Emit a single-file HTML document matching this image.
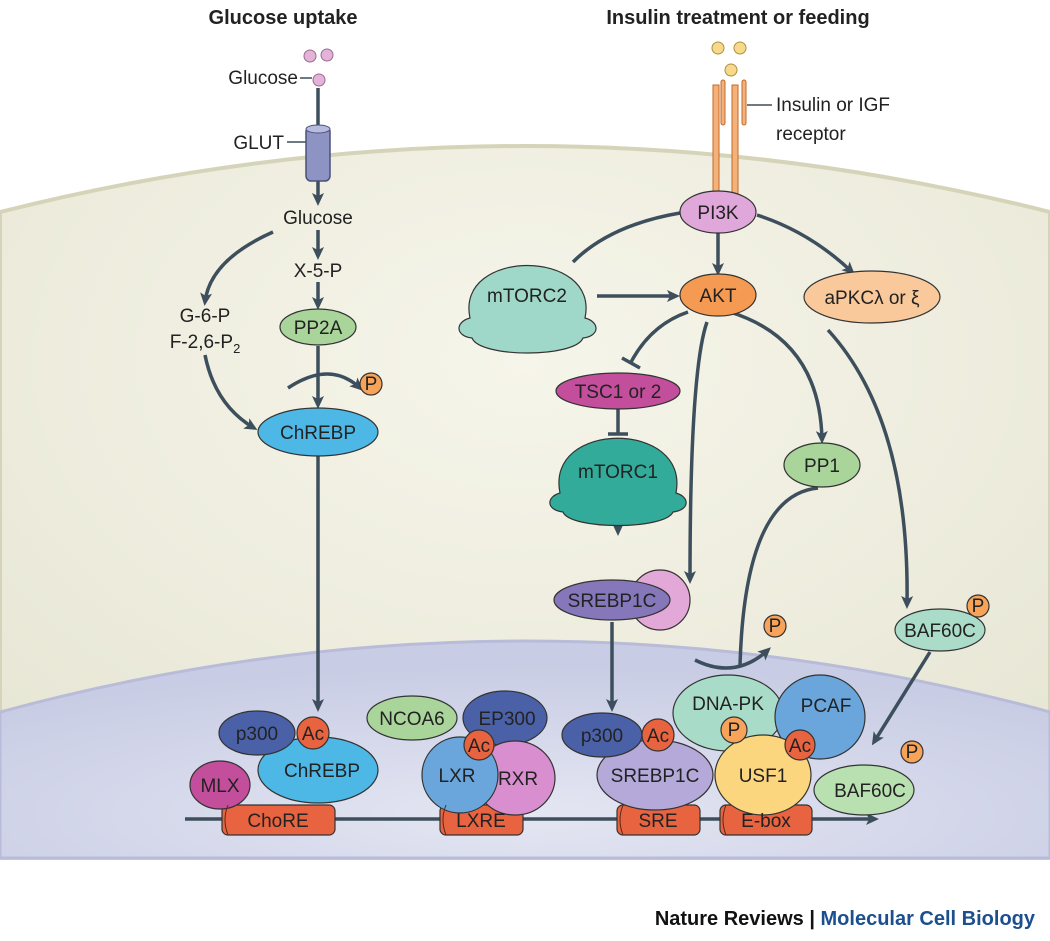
<!DOCTYPE html>
<html><head><meta charset="utf-8"><style>
html,body{margin:0;padding:0;background:#fff}
svg{display:block}
text{font-family:"Liberation Sans",sans-serif;font-size:19px;fill:#222}
</style></head><body>
<svg width="1050" height="941" viewBox="0 0 1050 941" xmlns="http://www.w3.org/2000/svg">
<defs>
<marker id="a" markerWidth="14" markerHeight="14" refX="9" refY="7" orient="auto" markerUnits="userSpaceOnUse"><path d="M0,1 L13,7 L0,13 L3,7 Z" fill="#3d4f5c"/></marker>
<radialGradient id="cyt" cx="50%" cy="30%" r="70%"><stop offset="0" stop-color="#f6f5ea"/><stop offset="1" stop-color="#e8e7d6"/></radialGradient>
<radialGradient id="nuc" cx="50%" cy="80%" r="70%"><stop offset="0" stop-color="#e4e6f2"/><stop offset="1" stop-color="#c8cce4"/></radialGradient>
</defs>
<path d="M0,212 Q525,80 1050,212 L1050,858 L0,858 Z" fill="url(#cyt)" stroke="#d6d4b8" stroke-width="4"/>
<path d="M0,712 Q525,570 1050,712 L1050,858 L0,858 Z" fill="url(#nuc)" stroke="#b8bcd8" stroke-width="3"/>

<g stroke="#3d4f5c" stroke-width="3.5" fill="none">
<line x1="318" y1="88" x2="318" y2="125"/>
<line x1="318" y1="180" x2="318" y2="202" marker-end="url(#a)"/>
<line x1="318" y1="230" x2="318" y2="256" marker-end="url(#a)"/>
<line x1="318" y1="282" x2="318" y2="306" marker-end="url(#a)"/>
<line x1="318" y1="346" x2="318" y2="405" marker-end="url(#a)"/>
<path d="M273,232 Q210,260 205,302" marker-end="url(#a)"/>
<path d="M205,355 Q215,405 254,428" marker-end="url(#a)"/>
<path d="M288,388 Q330,360 360,388" marker-end="url(#a)"/>
<line x1="318" y1="456" x2="318" y2="708" marker-end="url(#a)"/>
<line x1="718" y1="233" x2="718" y2="272" marker-end="url(#a)"/>
<path d="M680,213 Q610,225 573,262"/>
<line x1="597" y1="296" x2="676" y2="296" marker-end="url(#a)"/>
<path d="M757,215 Q810,232 852,272" marker-end="url(#a)"/>
<path d="M688,312 Q650,325 630,364"/>
<line x1="622" y1="358" x2="640" y2="368"/>
<line x1="618" y1="408" x2="618" y2="434"/>
<line x1="608" y1="434" x2="628" y2="434"/>
<line x1="618" y1="506" x2="618" y2="532" marker-end="url(#a)"/>
<path d="M707,322 Q690,370 690,580" marker-end="url(#a)"/>
<path d="M730,312 Q820,340 822,440" marker-end="url(#a)"/>
<path d="M828,330 Q910,420 907,605" marker-end="url(#a)"/>
<line x1="612" y1="622" x2="612" y2="708" marker-end="url(#a)"/>
<path d="M818,488 Q745,495 740,665"/>
<path d="M695,660 Q735,680 768,650" marker-end="url(#a)"/>
<path d="M930,652 Q900,700 874,742" marker-end="url(#a)"/>
<line x1="185" y1="819" x2="875" y2="819" marker-end="url(#a)"/>
</g>
<line x1="287" y1="142" x2="306" y2="142" stroke="#3d4f5c" stroke-width="1.5"/>
<line x1="300" y1="78" x2="312" y2="78" stroke="#3d4f5c" stroke-width="1.5"/>
<line x1="747" y1="105" x2="772" y2="105" stroke="#3d4f5c" stroke-width="1.5"/>

<g fill="#e3b3d8" stroke="#9a6a90" stroke-width="1"><circle cx="310" cy="56" r="6"/><circle cx="327" cy="55" r="6"/><circle cx="319" cy="80" r="6"/></g>
<g fill="#f6d98a" stroke="#b09040" stroke-width="1"><circle cx="718" cy="48" r="6"/><circle cx="740" cy="48" r="6"/><circle cx="731" cy="70" r="6"/></g>
<rect x="306" y="127" width="24" height="54" rx="5" fill="#8d94c4" stroke="#4a527a" stroke-width="1.5"/>
<ellipse cx="318" cy="129" rx="12" ry="4" fill="#b7bbe0" stroke="#4a527a"/>
<g fill="#f4b27a" stroke="#c06a2a" stroke-width="1"><rect x="713" y="85" width="6" height="115"/><rect x="732" y="85" width="6" height="115"/><rect x="721" y="80" width="4" height="45" rx="2"/><rect x="742" y="80" width="4" height="45" rx="2"/></g>

<g stroke="#333" stroke-width="1.2">
<ellipse cx="318" cy="327" rx="38" ry="18" fill="#a9d49a"/>
<ellipse cx="318" cy="432" rx="60" ry="24" fill="#4db7e6"/>
<circle cx="371" cy="384" r="11" fill="#f7a35a"/>
<ellipse cx="718" cy="212" rx="38" ry="21" fill="#e0a8da"/>
<ellipse cx="718" cy="295" rx="38" ry="21" fill="#f49a52"/>
<ellipse cx="872" cy="297" rx="68" ry="26" fill="#f9c99b"/>
<path d="M470,318 C455,248 600,248 585,318 C600,322 600,336 583,338 C575,358 480,358 472,338 C455,336 455,322 470,318 Z" fill="#9fd8c8"/>
<ellipse cx="618" cy="391" rx="62" ry="18" fill="#c24e9c"/>
<path d="M560,493 C545,420 690,420 676,493 C690,497 690,510 673,512 C665,530 570,530 563,512 C546,510 546,497 560,493 Z" fill="#33ab9a"/>
<ellipse cx="822" cy="465" rx="38" ry="22" fill="#a9d49a"/>
<circle cx="660" cy="600" r="30" fill="#e2a8d8"/>
<ellipse cx="612" cy="600" rx="58" ry="20" fill="#8677ba"/>
<ellipse cx="940" cy="630" rx="45" ry="21" fill="#abdcca"/>
<circle cx="978" cy="606" r="11" fill="#f7a35a"/>
<circle cx="775" cy="626" r="11" fill="#f7a35a"/>
<g fill="#e8633f">
<rect x="222" y="805" width="113" height="30" rx="6"/><rect x="440" y="805" width="83" height="30" rx="6"/>
<rect x="617" y="805" width="83" height="30" rx="6"/><rect x="720" y="805" width="92" height="30" rx="6"/>
</g>
<ellipse cx="318" cy="770" rx="60" ry="33" fill="#4db7e6"/>
<ellipse cx="257" cy="733" rx="38" ry="22" fill="#4a61a8"/>
<circle cx="313" cy="733" r="16" fill="#e8633f"/>
<ellipse cx="220" cy="785" rx="30" ry="24" fill="#c24e9c"/>
<ellipse cx="412" cy="718" rx="45" ry="22" fill="#a9d49a"/>
<ellipse cx="505" cy="718" rx="42" ry="27" fill="#4a61a8"/>
<ellipse cx="515" cy="778" rx="40" ry="37" fill="#d98fcf"/>
<ellipse cx="460" cy="775" rx="38" ry="38" fill="#6aa6dc"/>
<circle cx="479" cy="745" r="15" fill="#e8633f"/>
<ellipse cx="728" cy="713" rx="55" ry="38" fill="#a8dcc8"/>
<ellipse cx="820" cy="717" rx="45" ry="42" fill="#6aa6dc"/>
<ellipse cx="655" cy="775" rx="58" ry="35" fill="#b4a9d8"/>
<ellipse cx="602" cy="735" rx="40" ry="22" fill="#4a61a8"/>
<circle cx="658" cy="735" r="16" fill="#e8633f"/>
<ellipse cx="864" cy="790" rx="50" ry="25" fill="#b9e0b0"/>
<ellipse cx="763" cy="775" rx="48" ry="40" fill="#fcd67e"/>
<circle cx="734" cy="730" r="13" fill="#f7a35a"/>
<circle cx="800" cy="745" r="15" fill="#e8633f"/>
<circle cx="912" cy="752" r="11" fill="#f7a35a"/>
</g>
<g stroke="#5a2a18" stroke-width="1" fill="none">
<path d="M228,805 q-6,15 0,30"/><path d="M446,805 q-6,15 0,30"/><path d="M623,805 q-6,15 0,30"/><path d="M726,805 q-6,15 0,30"/>
</g>

<g text-anchor="middle">
<text x="283" y="24" style="font-weight:bold;font-size:20px">Glucose uptake</text>
<text x="738" y="24" style="font-weight:bold;font-size:20px">Insulin treatment or feeding</text>
<text x="318" y="224">Glucose</text>
<text x="318" y="277">X-5-P</text>
<text x="318" y="334">PP2A</text>
<text x="205" y="322">G-6-P</text>
<text x="205" y="348">F-2,6-P<tspan font-size="13" dy="5">2</tspan></text>
<text x="318" y="439">ChREBP</text>
<text x="371" y="390" font-size="15">P</text>
<text x="718" y="219">PI3K</text>
<text x="718" y="302">AKT</text>
<text x="872" y="304">aPKCλ or ξ</text>
<text x="527" y="302">mTORC2</text>
<text x="618" y="398">TSC1 or 2</text>
<text x="618" y="478">mTORC1</text>
<text x="822" y="472">PP1</text>
<text x="612" y="607">SREBP1C</text>
<text x="940" y="637">BAF60C</text>
<text x="978" y="612" font-size="15">P</text>
<text x="775" y="632" font-size="15">P</text>
<text x="257" y="740">p300</text>
<text x="313" y="740">Ac</text>
<text x="322" y="777">ChREBP</text>
<text x="220" y="792">MLX</text>
<text x="278" y="827">ChoRE</text>
<text x="412" y="725">NCOA6</text>
<text x="507" y="725">EP300</text>
<text x="479" y="752" font-size="17">Ac</text>
<text x="457" y="782">LXR</text>
<text x="518" y="785">RXR</text>
<text x="481" y="827">LXRE</text>
<text x="602" y="742">p300</text>
<text x="658" y="742">Ac</text>
<text x="655" y="782">SREBP1C</text>
<text x="658" y="827">SRE</text>
<text x="728" y="710">DNA-PK</text>
<text x="734" y="736" font-size="15">P</text>
<text x="826" y="712">PCAF</text>
<text x="800" y="752" font-size="17">Ac</text>
<text x="763" y="782">USF1</text>
<text x="870" y="797">BAF60C</text>
<text x="912" y="758" font-size="15">P</text>
<text x="766" y="827">E-box</text>
</g>
<text x="298" y="84" text-anchor="end">Glucose</text>
<text x="284" y="149" text-anchor="end">GLUT</text>
<text x="776" y="111">Insulin or IGF</text>
<text x="776" y="140">receptor</text>
<text x="1035" y="925" text-anchor="end" style="font-weight:bold;font-size:20px"><tspan fill="#111">Nature Reviews</tspan><tspan fill="#111"> | </tspan><tspan fill="#1b4f8e">Molecular Cell Biology</tspan></text>
</svg>
</body></html>
